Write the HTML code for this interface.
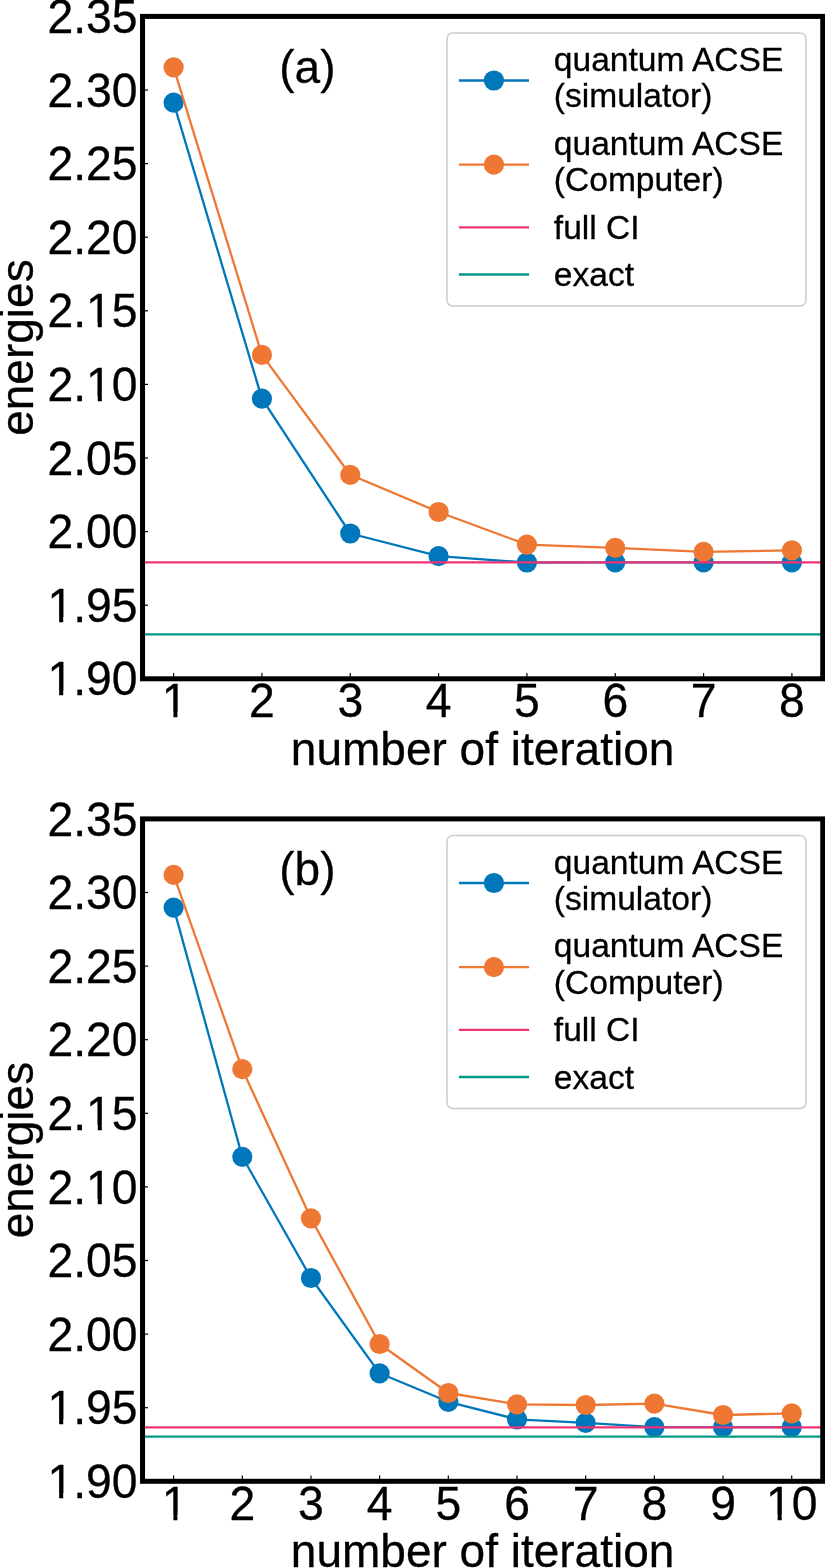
<!DOCTYPE html>
<html><head><meta charset="utf-8"><title>ACSE energies</title>
<style>html,body{margin:0;padding:0;background:#fff;overflow:hidden}svg{display:block}text{stroke:#000;stroke-width:0.3px;stroke-linejoin:round}</style>
</head><body>
<svg width="825" height="1568" viewBox="0 0 825 1568" font-family='"Liberation Sans", Arial, Helvetica, sans-serif' fill="#000">
<rect width="825" height="1568" fill="#fff"/>
<clipPath id="clipa"><rect x="142.55" y="16.4" width="680.2" height="662.4"/></clipPath>
<g clip-path="url(#clipa)">
<polyline points="173.60,102.70 261.93,398.70 350.26,533.50 438.59,556.20 526.92,562.50 615.25,562.30 703.58,562.30 791.91,562.30" fill="none" stroke="#0077BB" stroke-width="2.3" stroke-linejoin="round"/>
<circle cx="173.60" cy="102.70" r="10.1" fill="#0077BB"/>
<circle cx="261.93" cy="398.70" r="10.1" fill="#0077BB"/>
<circle cx="350.26" cy="533.50" r="10.1" fill="#0077BB"/>
<circle cx="438.59" cy="556.20" r="10.1" fill="#0077BB"/>
<circle cx="526.92" cy="562.50" r="10.1" fill="#0077BB"/>
<circle cx="615.25" cy="562.30" r="10.1" fill="#0077BB"/>
<circle cx="703.58" cy="562.30" r="10.1" fill="#0077BB"/>
<circle cx="791.91" cy="562.30" r="10.1" fill="#0077BB"/>
<polyline points="173.60,67.30 261.93,354.90 350.26,474.80 438.59,512.00 526.92,544.60 615.25,547.90 703.58,551.90 791.91,550.40" fill="none" stroke="#EE7733" stroke-width="2.3" stroke-linejoin="round"/>
<circle cx="173.60" cy="67.30" r="10.1" fill="#EE7733"/>
<circle cx="261.93" cy="354.90" r="10.1" fill="#EE7733"/>
<circle cx="350.26" cy="474.80" r="10.1" fill="#EE7733"/>
<circle cx="438.59" cy="512.00" r="10.1" fill="#EE7733"/>
<circle cx="526.92" cy="544.60" r="10.1" fill="#EE7733"/>
<circle cx="615.25" cy="547.90" r="10.1" fill="#EE7733"/>
<circle cx="703.58" cy="551.90" r="10.1" fill="#EE7733"/>
<circle cx="791.91" cy="550.40" r="10.1" fill="#EE7733"/>
<line x1="142.55" x2="822.75" y1="562.4" y2="562.4" stroke="#EE3377" stroke-width="2.3"/>
<line x1="142.55" x2="822.75" y1="634.3" y2="634.3" stroke="#009988" stroke-width="2.3"/>
</g>
<line x1="142.55" x2="148.0" y1="678.80" y2="678.80" stroke="#000" stroke-width="1.2"/>
<g transform="translate(47.49,695.40) scale(1,1.04)"><text x="0" y="0" font-size="46.3">1.90</text><rect x="2.49" y="-4.52" width="9.16" height="7.52" fill="#fff"/><rect x="15.73" y="-4.52" width="8.79" height="7.52" fill="#fff"/></g>
<line x1="142.55" x2="148.0" y1="605.20" y2="605.20" stroke="#000" stroke-width="1.2"/>
<g transform="translate(47.49,621.80) scale(1,1.04)"><text x="0" y="0" font-size="46.3">1.95</text><rect x="2.49" y="-4.52" width="9.16" height="7.52" fill="#fff"/><rect x="15.73" y="-4.52" width="8.79" height="7.52" fill="#fff"/></g>
<line x1="142.55" x2="148.0" y1="531.60" y2="531.60" stroke="#000" stroke-width="1.2"/>
<g transform="translate(47.49,548.20) scale(1,1.04)"><text x="0" y="0" font-size="46.3">2.00</text></g>
<line x1="142.55" x2="148.0" y1="458.00" y2="458.00" stroke="#000" stroke-width="1.2"/>
<g transform="translate(47.49,474.60) scale(1,1.04)"><text x="0" y="0" font-size="46.3">2.05</text></g>
<line x1="142.55" x2="148.0" y1="384.40" y2="384.40" stroke="#000" stroke-width="1.2"/>
<g transform="translate(47.49,401.00) scale(1,1.04)"><text x="0" y="0" font-size="46.3">2.10</text><rect x="41.10" y="-4.52" width="9.16" height="7.52" fill="#fff"/><rect x="54.35" y="-4.52" width="8.79" height="7.52" fill="#fff"/></g>
<line x1="142.55" x2="148.0" y1="310.80" y2="310.80" stroke="#000" stroke-width="1.2"/>
<g transform="translate(47.49,327.40) scale(1,1.04)"><text x="0" y="0" font-size="46.3">2.15</text><rect x="41.10" y="-4.52" width="9.16" height="7.52" fill="#fff"/><rect x="54.35" y="-4.52" width="8.79" height="7.52" fill="#fff"/></g>
<line x1="142.55" x2="148.0" y1="237.20" y2="237.20" stroke="#000" stroke-width="1.2"/>
<g transform="translate(47.49,253.80) scale(1,1.04)"><text x="0" y="0" font-size="46.3">2.20</text></g>
<line x1="142.55" x2="148.0" y1="163.60" y2="163.60" stroke="#000" stroke-width="1.2"/>
<g transform="translate(47.49,180.20) scale(1,1.04)"><text x="0" y="0" font-size="46.3">2.25</text></g>
<line x1="142.55" x2="148.0" y1="90.00" y2="90.00" stroke="#000" stroke-width="1.2"/>
<g transform="translate(47.49,106.60) scale(1,1.04)"><text x="0" y="0" font-size="46.3">2.30</text></g>
<line x1="142.55" x2="148.0" y1="16.40" y2="16.40" stroke="#000" stroke-width="1.2"/>
<g transform="translate(47.49,33.00) scale(1,1.04)"><text x="0" y="0" font-size="46.3">2.35</text></g>
<line x1="173.60" x2="173.60" y1="678.8" y2="673.10" stroke="#000" stroke-width="1.2"/>
<g transform="translate(161.73,717.00) scale(1,1.04)"><text x="0" y="0" font-size="46.3">1</text><rect x="2.49" y="-4.52" width="9.16" height="7.52" fill="#fff"/><rect x="15.73" y="-4.52" width="8.79" height="7.52" fill="#fff"/></g>
<line x1="261.93" x2="261.93" y1="678.8" y2="673.10" stroke="#000" stroke-width="1.2"/>
<g transform="translate(249.06,717.00) scale(1,1.04)"><text x="0" y="0" font-size="46.3">2</text></g>
<line x1="350.26" x2="350.26" y1="678.8" y2="673.10" stroke="#000" stroke-width="1.2"/>
<g transform="translate(337.39,717.00) scale(1,1.04)"><text x="0" y="0" font-size="46.3">3</text></g>
<line x1="438.59" x2="438.59" y1="678.8" y2="673.10" stroke="#000" stroke-width="1.2"/>
<g transform="translate(425.72,717.00) scale(1,1.04)"><text x="0" y="0" font-size="46.3">4</text></g>
<line x1="526.92" x2="526.92" y1="678.8" y2="673.10" stroke="#000" stroke-width="1.2"/>
<g transform="translate(514.05,717.00) scale(1,1.04)"><text x="0" y="0" font-size="46.3">5</text></g>
<line x1="615.25" x2="615.25" y1="678.8" y2="673.10" stroke="#000" stroke-width="1.2"/>
<g transform="translate(602.38,717.00) scale(1,1.04)"><text x="0" y="0" font-size="46.3">6</text></g>
<line x1="703.58" x2="703.58" y1="678.8" y2="673.10" stroke="#000" stroke-width="1.2"/>
<g transform="translate(690.71,717.00) scale(1,1.04)"><text x="0" y="0" font-size="46.3">7</text></g>
<line x1="791.91" x2="791.91" y1="678.8" y2="673.10" stroke="#000" stroke-width="1.2"/>
<g transform="translate(779.04,717.00) scale(1,1.04)"><text x="0" y="0" font-size="46.3">8</text></g>
<rect x="142.55" y="16.4" width="680.2" height="662.4" fill="none" stroke="#000" stroke-width="5.0" stroke-linejoin="miter"/>
<text x="482.6" y="764.80" text-anchor="middle" font-size="46.0">number of iteration</text>
<text transform="translate(32.9,347.60) rotate(-90)" text-anchor="middle" font-size="46.0">energies</text>
<text x="307.4" y="82.70" text-anchor="middle" font-size="46.0">(a)</text>
<rect x="447.0" y="33.0" width="359.0" height="273.0" rx="5.7" ry="5.7" fill="#fff" fill-opacity="0.8" stroke="#ccc" stroke-width="1.5"/>
<line x1="458.9" x2="529.0" y1="80.5" y2="80.5" stroke="#0077BB" stroke-width="2.3"/>
<circle cx="493.9" cy="80.5" r="10.1" fill="#0077BB"/>
<line x1="458.9" x2="529.0" y1="164.7" y2="164.7" stroke="#EE7733" stroke-width="2.3"/>
<circle cx="493.9" cy="164.7" r="10.1" fill="#EE7733"/>
<line x1="458.9" x2="529.0" y1="227.4" y2="227.4" stroke="#EE3377" stroke-width="2.3"/>
<line x1="458.9" x2="529.0" y1="274.5" y2="274.5" stroke="#009988" stroke-width="2.3"/>
<text x="553.8" y="71.00" font-size="33.6">quantum ACSE</text>
<text x="553.8" y="107.00" font-size="33.6">(simulator)</text>
<text x="553.8" y="154.90" font-size="33.6">quantum ACSE</text>
<text x="553.8" y="191.20" font-size="33.6">(Computer)</text>
<text x="553.8" y="238.80" font-size="33.6">full CI</text>
<text x="553.8" y="286.10" font-size="33.6">exact</text>
<clipPath id="clipb"><rect x="142.55" y="818.9" width="680.2" height="662.4"/></clipPath>
<g clip-path="url(#clipb)">
<polyline points="173.60,907.60 242.28,1156.80 310.96,1278.00 379.64,1373.30 448.32,1401.80 517.00,1419.30 585.68,1422.90 654.36,1427.20 723.04,1427.20 791.72,1427.20" fill="none" stroke="#0077BB" stroke-width="2.3" stroke-linejoin="round"/>
<circle cx="173.60" cy="907.60" r="10.1" fill="#0077BB"/>
<circle cx="242.28" cy="1156.80" r="10.1" fill="#0077BB"/>
<circle cx="310.96" cy="1278.00" r="10.1" fill="#0077BB"/>
<circle cx="379.64" cy="1373.30" r="10.1" fill="#0077BB"/>
<circle cx="448.32" cy="1401.80" r="10.1" fill="#0077BB"/>
<circle cx="517.00" cy="1419.30" r="10.1" fill="#0077BB"/>
<circle cx="585.68" cy="1422.90" r="10.1" fill="#0077BB"/>
<circle cx="654.36" cy="1427.20" r="10.1" fill="#0077BB"/>
<circle cx="723.04" cy="1427.20" r="10.1" fill="#0077BB"/>
<circle cx="791.72" cy="1427.20" r="10.1" fill="#0077BB"/>
<polyline points="173.60,874.80 242.28,1069.20 310.96,1218.40 379.64,1344.00 448.32,1393.00 517.00,1404.30 585.68,1405.00 654.36,1403.60 723.04,1415.00 791.72,1413.30" fill="none" stroke="#EE7733" stroke-width="2.3" stroke-linejoin="round"/>
<circle cx="173.60" cy="874.80" r="10.1" fill="#EE7733"/>
<circle cx="242.28" cy="1069.20" r="10.1" fill="#EE7733"/>
<circle cx="310.96" cy="1218.40" r="10.1" fill="#EE7733"/>
<circle cx="379.64" cy="1344.00" r="10.1" fill="#EE7733"/>
<circle cx="448.32" cy="1393.00" r="10.1" fill="#EE7733"/>
<circle cx="517.00" cy="1404.30" r="10.1" fill="#EE7733"/>
<circle cx="585.68" cy="1405.00" r="10.1" fill="#EE7733"/>
<circle cx="654.36" cy="1403.60" r="10.1" fill="#EE7733"/>
<circle cx="723.04" cy="1415.00" r="10.1" fill="#EE7733"/>
<circle cx="791.72" cy="1413.30" r="10.1" fill="#EE7733"/>
<line x1="142.55" x2="822.75" y1="1427.4" y2="1427.4" stroke="#EE3377" stroke-width="2.3"/>
<line x1="142.55" x2="822.75" y1="1436.6" y2="1436.6" stroke="#009988" stroke-width="2.3"/>
</g>
<line x1="142.55" x2="148.0" y1="1481.30" y2="1481.30" stroke="#000" stroke-width="1.2"/>
<g transform="translate(47.49,1497.90) scale(1,1.04)"><text x="0" y="0" font-size="46.3">1.90</text><rect x="2.49" y="-4.52" width="9.16" height="7.52" fill="#fff"/><rect x="15.73" y="-4.52" width="8.79" height="7.52" fill="#fff"/></g>
<line x1="142.55" x2="148.0" y1="1407.70" y2="1407.70" stroke="#000" stroke-width="1.2"/>
<g transform="translate(47.49,1424.30) scale(1,1.04)"><text x="0" y="0" font-size="46.3">1.95</text><rect x="2.49" y="-4.52" width="9.16" height="7.52" fill="#fff"/><rect x="15.73" y="-4.52" width="8.79" height="7.52" fill="#fff"/></g>
<line x1="142.55" x2="148.0" y1="1334.10" y2="1334.10" stroke="#000" stroke-width="1.2"/>
<g transform="translate(47.49,1350.70) scale(1,1.04)"><text x="0" y="0" font-size="46.3">2.00</text></g>
<line x1="142.55" x2="148.0" y1="1260.50" y2="1260.50" stroke="#000" stroke-width="1.2"/>
<g transform="translate(47.49,1277.10) scale(1,1.04)"><text x="0" y="0" font-size="46.3">2.05</text></g>
<line x1="142.55" x2="148.0" y1="1186.90" y2="1186.90" stroke="#000" stroke-width="1.2"/>
<g transform="translate(47.49,1203.50) scale(1,1.04)"><text x="0" y="0" font-size="46.3">2.10</text><rect x="41.10" y="-4.52" width="9.16" height="7.52" fill="#fff"/><rect x="54.35" y="-4.52" width="8.79" height="7.52" fill="#fff"/></g>
<line x1="142.55" x2="148.0" y1="1113.30" y2="1113.30" stroke="#000" stroke-width="1.2"/>
<g transform="translate(47.49,1129.90) scale(1,1.04)"><text x="0" y="0" font-size="46.3">2.15</text><rect x="41.10" y="-4.52" width="9.16" height="7.52" fill="#fff"/><rect x="54.35" y="-4.52" width="8.79" height="7.52" fill="#fff"/></g>
<line x1="142.55" x2="148.0" y1="1039.70" y2="1039.70" stroke="#000" stroke-width="1.2"/>
<g transform="translate(47.49,1056.30) scale(1,1.04)"><text x="0" y="0" font-size="46.3">2.20</text></g>
<line x1="142.55" x2="148.0" y1="966.10" y2="966.10" stroke="#000" stroke-width="1.2"/>
<g transform="translate(47.49,982.70) scale(1,1.04)"><text x="0" y="0" font-size="46.3">2.25</text></g>
<line x1="142.55" x2="148.0" y1="892.50" y2="892.50" stroke="#000" stroke-width="1.2"/>
<g transform="translate(47.49,909.10) scale(1,1.04)"><text x="0" y="0" font-size="46.3">2.30</text></g>
<line x1="142.55" x2="148.0" y1="818.90" y2="818.90" stroke="#000" stroke-width="1.2"/>
<g transform="translate(47.49,835.50) scale(1,1.04)"><text x="0" y="0" font-size="46.3">2.35</text></g>
<line x1="173.60" x2="173.60" y1="1481.3" y2="1475.60" stroke="#000" stroke-width="1.2"/>
<g transform="translate(161.73,1519.50) scale(1,1.04)"><text x="0" y="0" font-size="46.3">1</text><rect x="2.49" y="-4.52" width="9.16" height="7.52" fill="#fff"/><rect x="15.73" y="-4.52" width="8.79" height="7.52" fill="#fff"/></g>
<line x1="242.28" x2="242.28" y1="1481.3" y2="1475.60" stroke="#000" stroke-width="1.2"/>
<g transform="translate(229.41,1519.50) scale(1,1.04)"><text x="0" y="0" font-size="46.3">2</text></g>
<line x1="310.96" x2="310.96" y1="1481.3" y2="1475.60" stroke="#000" stroke-width="1.2"/>
<g transform="translate(298.09,1519.50) scale(1,1.04)"><text x="0" y="0" font-size="46.3">3</text></g>
<line x1="379.64" x2="379.64" y1="1481.3" y2="1475.60" stroke="#000" stroke-width="1.2"/>
<g transform="translate(366.77,1519.50) scale(1,1.04)"><text x="0" y="0" font-size="46.3">4</text></g>
<line x1="448.32" x2="448.32" y1="1481.3" y2="1475.60" stroke="#000" stroke-width="1.2"/>
<g transform="translate(435.45,1519.50) scale(1,1.04)"><text x="0" y="0" font-size="46.3">5</text></g>
<line x1="517.00" x2="517.00" y1="1481.3" y2="1475.60" stroke="#000" stroke-width="1.2"/>
<g transform="translate(504.13,1519.50) scale(1,1.04)"><text x="0" y="0" font-size="46.3">6</text></g>
<line x1="585.68" x2="585.68" y1="1481.3" y2="1475.60" stroke="#000" stroke-width="1.2"/>
<g transform="translate(572.81,1519.50) scale(1,1.04)"><text x="0" y="0" font-size="46.3">7</text></g>
<line x1="654.36" x2="654.36" y1="1481.3" y2="1475.60" stroke="#000" stroke-width="1.2"/>
<g transform="translate(641.49,1519.50) scale(1,1.04)"><text x="0" y="0" font-size="46.3">8</text></g>
<line x1="723.04" x2="723.04" y1="1481.3" y2="1475.60" stroke="#000" stroke-width="1.2"/>
<g transform="translate(710.17,1519.50) scale(1,1.04)"><text x="0" y="0" font-size="46.3">9</text></g>
<line x1="791.72" x2="791.72" y1="1481.3" y2="1475.60" stroke="#000" stroke-width="1.2"/>
<g transform="translate(765.97,1519.50) scale(1,1.04)"><text x="0" y="0" font-size="46.3">10</text><rect x="2.49" y="-4.52" width="9.16" height="7.52" fill="#fff"/><rect x="15.73" y="-4.52" width="8.79" height="7.52" fill="#fff"/></g>
<rect x="142.55" y="818.9" width="680.2" height="662.4" fill="none" stroke="#000" stroke-width="5.0" stroke-linejoin="miter"/>
<text x="482.6" y="1567.30" text-anchor="middle" font-size="46.0">number of iteration</text>
<text transform="translate(32.9,1150.10) rotate(-90)" text-anchor="middle" font-size="46.0">energies</text>
<text x="307.4" y="885.20" text-anchor="middle" font-size="46.0">(b)</text>
<rect x="447.0" y="835.5" width="359.0" height="273.0" rx="5.7" ry="5.7" fill="#fff" fill-opacity="0.8" stroke="#ccc" stroke-width="1.5"/>
<line x1="458.9" x2="529.0" y1="883.0" y2="883.0" stroke="#0077BB" stroke-width="2.3"/>
<circle cx="493.9" cy="883.0" r="10.1" fill="#0077BB"/>
<line x1="458.9" x2="529.0" y1="967.2" y2="967.2" stroke="#EE7733" stroke-width="2.3"/>
<circle cx="493.9" cy="967.2" r="10.1" fill="#EE7733"/>
<line x1="458.9" x2="529.0" y1="1029.9" y2="1029.9" stroke="#EE3377" stroke-width="2.3"/>
<line x1="458.9" x2="529.0" y1="1077.0" y2="1077.0" stroke="#009988" stroke-width="2.3"/>
<text x="553.8" y="873.50" font-size="33.6">quantum ACSE</text>
<text x="553.8" y="909.50" font-size="33.6">(simulator)</text>
<text x="553.8" y="957.40" font-size="33.6">quantum ACSE</text>
<text x="553.8" y="993.70" font-size="33.6">(Computer)</text>
<text x="553.8" y="1041.30" font-size="33.6">full CI</text>
<text x="553.8" y="1088.60" font-size="33.6">exact</text>
</svg>
</body></html>
